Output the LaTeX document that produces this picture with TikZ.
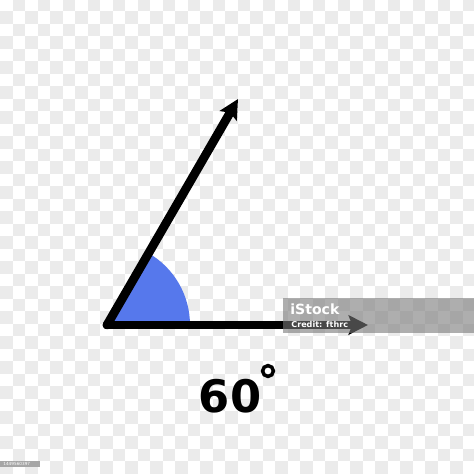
\documentclass[tikz,border=0pt]{standalone}
\usepackage{fontspec}
\newfontfamily\degfont{DejaVu Sans}
\usetikzlibrary{arrows.meta}
\definecolor{chk}{RGB}{235,235,235}
\definecolor{angblue}{RGB}{86,120,236}
\tikzstyle{ray}=[line width=5pt,line cap=round,line join=round,-{Stealth[length=11pt,width=11pt,inset=2pt]}]
\tikzstyle{lbl}=[inner sep=0pt,font=\degfont\bfseries\fontsize{25.5}{26}\selectfont]
\tikzstyle{wm}=[inner sep=0pt,anchor=west,text=white,font=\degfont\bfseries]
\begin{document}
\begin{tikzpicture}[x=0.02cm,y=0.02cm]
        \useasboundingbox (0,0) rectangle (474,474);
        % checkerboard
        \fill[white] (0,0) rectangle (474,474);
        \foreach \i in {0,2,...,36}
          \foreach \j in {0,2,...,36}{
            \fill[chk] (\i*12.5,\j*12.5) rectangle ++(12.5,12.5);
            \fill[chk] (\i*12.5+12.5,\j*12.5+12.5) rectangle ++(12.5,12.5);
          }
        \coordinate (O) at (107,149);
        \coordinate (A) at (238,375);
        \coordinate (B) at (368,149);
        % angle
        \fill[angblue] (O) -- ++(83,0) arc (0:60:83) -- cycle;
        \draw[ray] (O) -- (A);
        \draw[ray] (O) -- (B);
        \node[lbl] (val) at (230,78) {60};
        \draw[line width=2pt] (268,103) circle (5.4);
        % watermark
        \fill[gray!95!black,opacity=0.6] (283,141) rectangle (474,176);
        \node[wm,font=\degfont\bfseries\fontsize{8}{9}\selectfont] (brand) at (290,165) {iStock};
        \node[wm,font=\degfont\bfseries\fontsize{4.6}{5}\selectfont] (credit) at (291,150) {Credit: fthrc};
        \fill[gray!70] (0,7) rectangle (40,13);
        \node[wm,font=\degfont\fontsize{2.4}{3}\selectfont] (code) at (3,10) {1449560397};
\end{tikzpicture}
\end{document}
